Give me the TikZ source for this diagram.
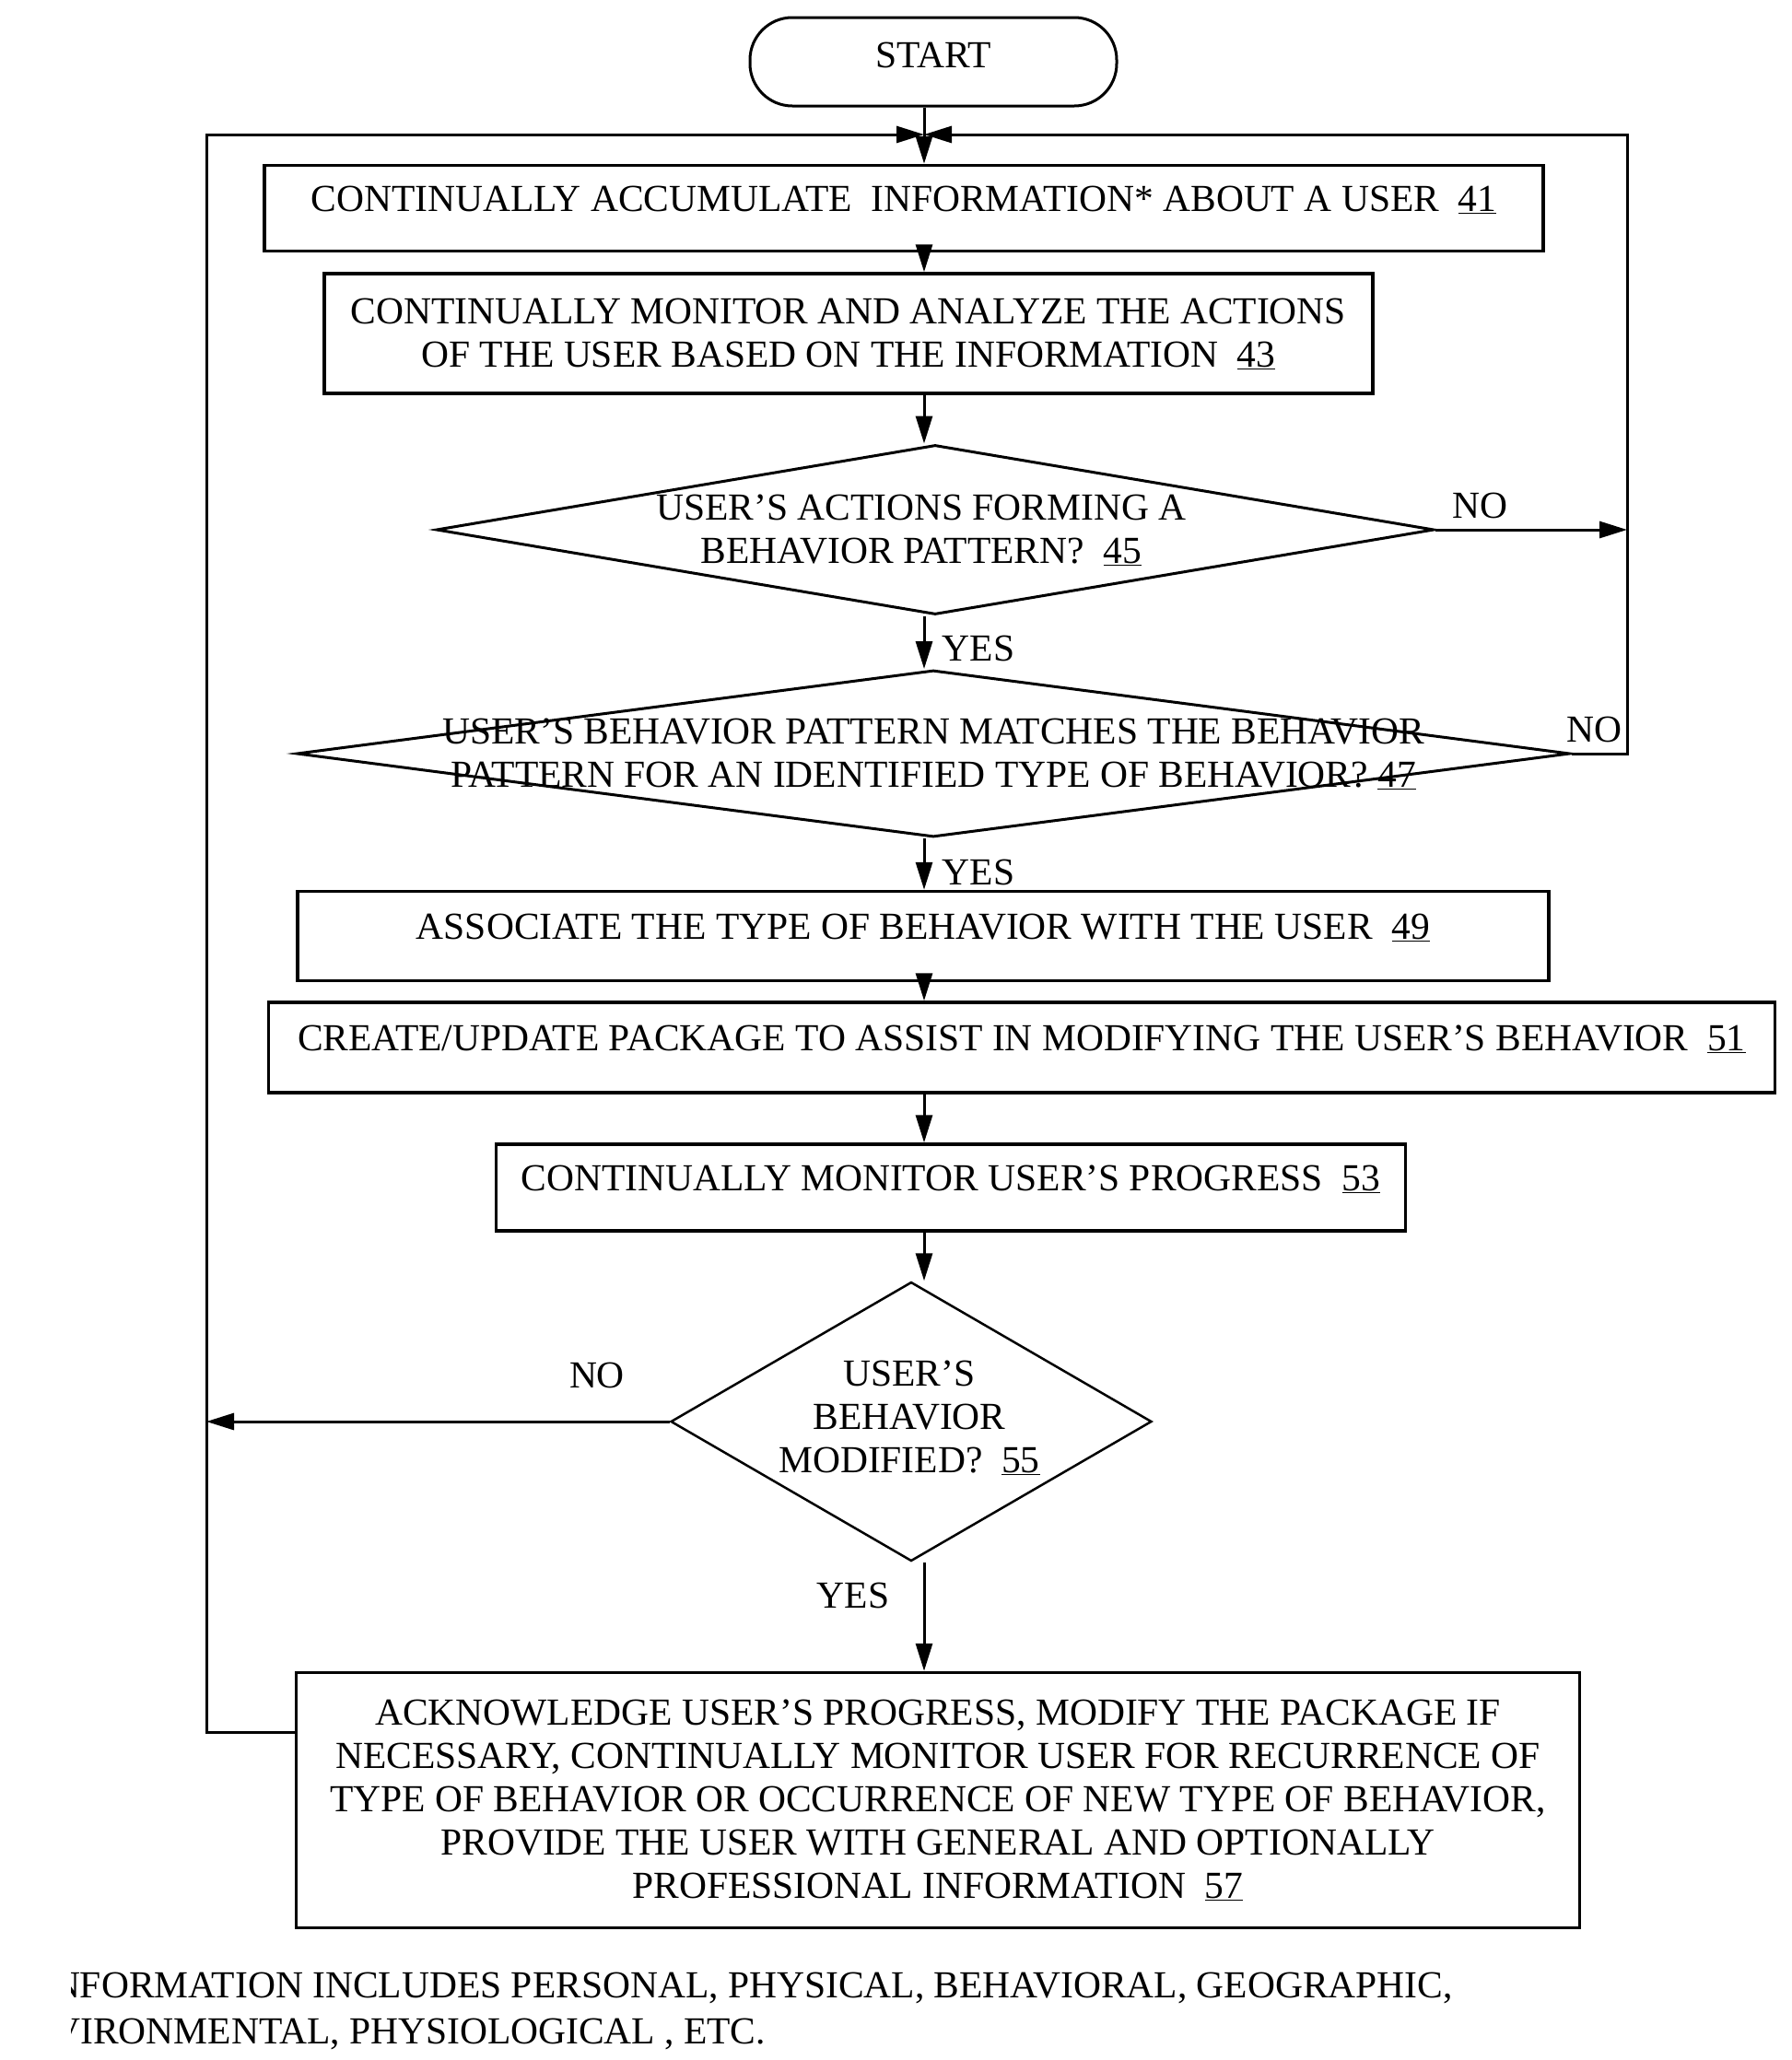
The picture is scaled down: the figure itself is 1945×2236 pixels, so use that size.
\documentclass[tikz,border=0pt]{standalone}
\usepackage{fontspec}
\setmainfont{Liberation Serif}
\usetikzlibrary{arrows.meta,shapes.geometric}
\newcommand\myfs{\fontsize{41.5}{47}\selectfont}
\begin{document}
\begin{tikzpicture}[x=1pt,y=-1pt,
  box/.style={draw,line width=3.5pt,inner sep=0pt,align=center,font=\myfs},
  onebox/.style={box,text depth=20pt},
  dia/.style={draw,diamond,line width=3pt,inner sep=0pt},
  txt/.style={align=center,font=\myfs,inner sep=0pt},
  conn/.style={line width=3pt},
  tip/.style={-{Triangle[length=30pt,width=18pt]}}
]
\useasboundingbox (0,0) rectangle (1945,2236);
\fill[white] (0,0) rectangle (1945,2236);

% nodes
\node[draw,line width=3pt,rounded corners=46pt,minimum width=398pt,minimum height=96pt,font=\myfs,inner sep=0pt,text depth=15pt] (start) at (1013,67) {START};
\node[onebox,minimum width=1388pt,minimum height=93pt] (b41) at (981,226) {CONTINUALLY ACCUMULATE\ \ INFORMATION* ABOUT A USER\ \ \underline{41}};
\node[box,minimum width=1138pt,minimum height=130pt] (b43) at (921,362) {CONTINUALLY MONITOR AND ANALYZE THE ACTIONS\\OF THE USER BASED ON THE INFORMATION\ \ \underline{43}};
\node[dia,minimum width=1083pt,minimum height=184pt] (d45) at (1015,575) {};
\node[txt] (t45) at (1000,575) {USER’S ACTIONS FORMING A\\BEHAVIOR PATTERN?\ \ \underline{45}};
\node[dia,minimum width=1382pt,minimum height=181pt] (d47) at (1013,818) {};
\node[txt] (t47) at (1013,818) {USER’S BEHAVIOR PATTERN MATCHES THE BEHAVIOR\\PATTERN FOR AN IDENTIFIED TYPE OF BEHAVIOR? \underline{47}};
\node[onebox,minimum width=1358pt,minimum height=97pt] (b49) at (1002,1016) {ASSOCIATE THE TYPE OF BEHAVIOR WITH THE USER\ \ \underline{49}};
\node[onebox,minimum width=1635pt,minimum height=98pt] (b51) at (1109,1137) {CREATE/UPDATE PACKAGE TO ASSIST IN MODIFYING THE USER’S BEHAVIOR\ \ \underline{51}};
\node[onebox,minimum width=987pt,minimum height=94pt] (b53) at (1032,1289) {CONTINUALLY MONITOR USER’S PROGRESS\ \ \underline{53}};
\node[dia,line width=2.5pt,minimum width=522pt,minimum height=303pt] (d55) at (989,1543) {};
\node[txt] (t55) at (987,1539) {USER’S\\BEHAVIOR\\MODIFIED?\ \ \underline{55}};
\node[box,minimum width=1393pt,minimum height=277pt] (b57) at (1018,1954) {ACKNOWLEDGE USER’S PROGRESS, MODIFY THE PACKAGE IF\\NECESSARY, CONTINUALLY MONITOR USER FOR RECURRENCE OF\\TYPE OF BEHAVIOR OR OCCURRENCE OF NEW TYPE OF BEHAVIOR,\\PROVIDE THE USER WITH GENERAL AND OPTIONALLY\\PROFESSIONAL INFORMATION\ \ \underline{57}};

% labels
\node[txt] (no45) at (1606,549) {NO};
\node[txt] (yes45) at (1062,704) {YES};
\node[txt] (no47) at (1730,792) {NO};
\node[txt] (yes47) at (1062,947) {YES};
\node[txt] (no55) at (648,1493) {NO};
\node[txt] (yes55) at (926,1732) {YES};

% helper coordinates
\coordinate (col) at (1003,0);
\coordinate (j) at (1003,146);
\coordinate (rr) at (1766,146);
\coordinate (lb) at (224,1880);

% main flow
\draw[conn,tip] (start.south -| col) -- (b41.north -| col);
\draw[conn,tip] (b41.south -| col) -- (b43.north -| col);
\draw[conn,tip] (b43.south -| col) -- (d45.north -| col);
\draw[conn,tip] (d45.south -| col) -- (d47.north -| col);
\draw[conn,tip] (d47.south -| col) -- (b49.north -| col);
\draw[conn,tip] (b49.south -| col) -- (b51.north -| col);
\draw[conn,tip] (b51.south -| col) -- (b53.north -| col);
\draw[conn,tip] (b53.south -| col) -- (d55.north -| col);
\draw[conn,tip] (d55.south -| col) -- (b57.north -| col);

% loops
\draw[conn,tip] (d45.east) -- (d45.east -| rr);
\draw[conn,tip] (d47.east) -- (d47.east -| rr) -- (rr) -- (j);
\draw[conn,tip] (b57.west |- lb) -- (lb) -- (lb |- j) -- (j);
\draw[conn,tip] (d55.west) -- (d55.west -| lb);

% footnote
\begin{scope}
\clip (77,2100) rectangle (1945,2236);
\node[txt,anchor=base west] (fn1) at (43,2168) {INFORMATION INCLUDES PERSONAL, PHYSICAL, BEHAVIORAL, GEOGRAPHIC,};
\node[txt,anchor=base west] (fn2) at (2,2218) {ENVIRONMENTAL, PHYSIOLOGICAL , ETC.};
\end{scope}
\end{tikzpicture}
\end{document}
